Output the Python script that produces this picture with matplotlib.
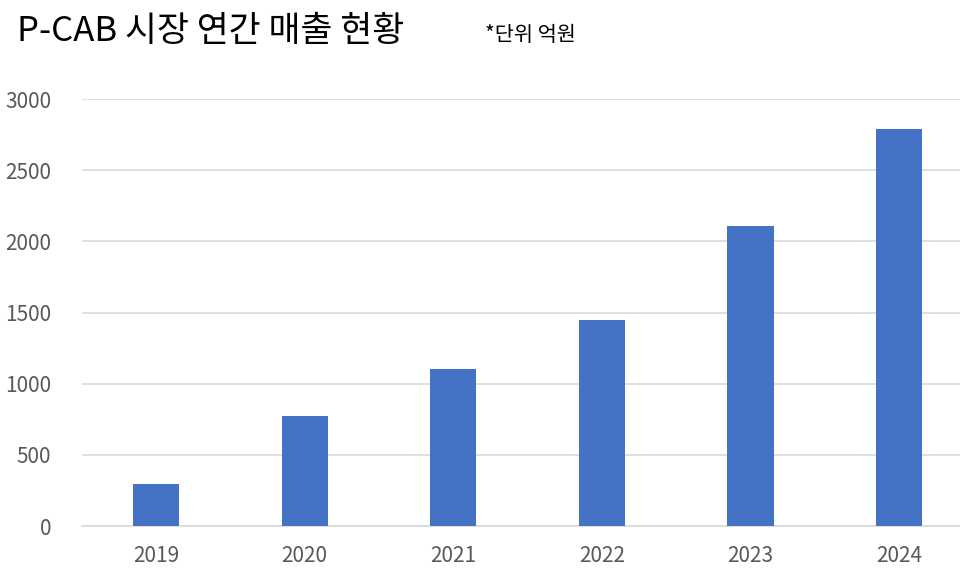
import matplotlib
matplotlib.use("Agg")
from matplotlib import pyplot as plt

plt.rcParams['font.family'] = ['Noto Sans CJK KR', 'DejaVu Sans']

years = ['2019', '2020', '2021', '2022', '2023', '2024']
sales = [295, 770, 1105, 1445, 2110, 2790]

fig = plt.figure(figsize=(9.6, 5.79), dpi=100)
ax = fig.add_axes([0.085, 0.0915, 0.929, 0.7375])

ax.bar(range(len(years)), sales, width=0.31, color='#4472C4', zorder=3)
ax.set_xlim(-0.5, len(years) - 0.5)
ax.set_ylim(0, 3000)
ax.set_yticks(range(0, 3001, 500))
ax.set_xticks(range(len(years)))
ax.set_xticklabels(years)
ax.yaxis.grid(True, color='#D9D9D9', linewidth=1.2, zorder=0)
for s in ['top', 'right', 'left']:
    ax.spines[s].set_visible(False)
ax.spines['bottom'].set_color('#D9D9D9')
ax.spines['bottom'].set_linewidth(1.2)
ax.tick_params(length=0, labelsize=15, colors='#595959', pad=14)
ax.tick_params(axis='y', pad=22)

fig.text(0.018, 0.945, 'P-CAB 시장 연간 매출 현황', fontsize=25, va='center')
fig.text(0.505, 0.94, '*단위 억원', fontsize=15, va='center')

fig.savefig('out.png', dpi=100)
